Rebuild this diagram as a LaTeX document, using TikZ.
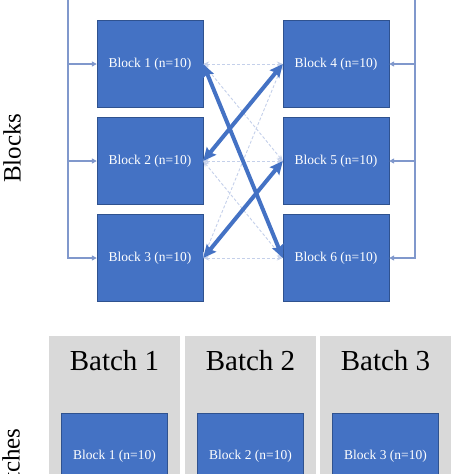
\documentclass[tikz,border=0pt]{standalone}
\usepackage{fontspec}
\setmainfont{Liberation Serif}
\usetikzlibrary{positioning,arrows.meta}
\tikzstyle{canvas} = [x = 1pt, y = -1pt]
\definecolor{blockColor}{RGB}{68,114,196}
\definecolor{blockEdge}{RGB}{47,82,143}
\definecolor{frameColor}{RGB}{128,152,204}
\definecolor{linkColor}{RGB}{196,208,234}
\definecolor{batchColor}{RGB}{217,217,217}
\tikzstyle{blockStyle} = [draw=blockEdge, fill=blockColor, text=white, minimum width=106pt, minimum height=87pt, inner sep=0pt, font=\fontsize{13.5}{15}\selectfont]
\tikzstyle{batchStyle} = [fill=batchColor, minimum width=131pt, minimum height=200pt, anchor=north, inner sep=0pt]
\tikzstyle{batchText} = [text=black, font=\fontsize{29}{34}\selectfont]
\tikzstyle{axisText} = [rotate=90, font=\fontsize{25}{30}\selectfont]
\tikzstyle{frameLine} = [color=frameColor, line width=1.2pt, -{Triangle[length=5pt,width=5pt]}]
\tikzstyle{thinLink} = [color=linkColor, line width=0.9pt, dash pattern=on 3pt off 2pt, {Stealth[length=6pt,width=5pt]}-{Stealth[length=6pt,width=5pt]}]
\tikzstyle{thickLink} = [color=blockColor, line width=4pt, {Stealth[length=13pt,width=12pt,inset=2pt]}-{Stealth[length=13pt,width=12pt,inset=2pt]}]
\newcommand{\leftBlock}[2]{\node [blockStyle] (b#1) at (150,#2) {Block #1 (n=10)};}
\newcommand{\rightBlock}[2]{\node [blockStyle] (b#1) at (336,#2) {Block #1 (n=10)};}
\newcommand{\batchPanel}[2]{
  \node [batchStyle] (p#1) at (#2,336) {};
  \node [batchText] (t#1) at (#2,361) {Batch #1};
  \node [blockStyle] (c#1) at (#2,456.5) {Block #1 (n=10)};
}

\begin{document}
\begin{tikzpicture}[canvas]
  \useasboundingbox (0,0) rectangle (474,474);
  \leftBlock{1}{64}
  \leftBlock{2}{161}
  \leftBlock{3}{258}
  \rightBlock{4}{64}
  \rightBlock{5}{161}
  \rightBlock{6}{258}

  \coordinate (frameLeft) at (68,-10);
  \coordinate (frameRight) at (415,-10);
  \foreach \i in {1,2,3} {
    \draw [frameLine] (frameLeft) |- (b\i.west);
  }
  \foreach \j in {4,5,6} {
    \draw [frameLine] (frameRight) |- (b\j.east);
  }

  \foreach \i in {1,2,3} {
    \foreach \j in {4,5,6} {
      \draw [thinLink] (b\i.east) -- (b\j.west);
    }
  }
  \draw [thickLink] (b1.east) -- (b6.west);
  \draw [thickLink] (b4.west) -- (b2.east);
  \draw [thickLink] (b5.west) -- (b3.east);

  \node [axisText] (blocksLabel) at (12,148) {Blocks};

  \batchPanel{1}{114.5}
  \batchPanel{2}{250.5}
  \batchPanel{3}{385.5}

  \node [axisText] (batchesLabel) at (11,468) {Batches};
\end{tikzpicture}
\end{document}
